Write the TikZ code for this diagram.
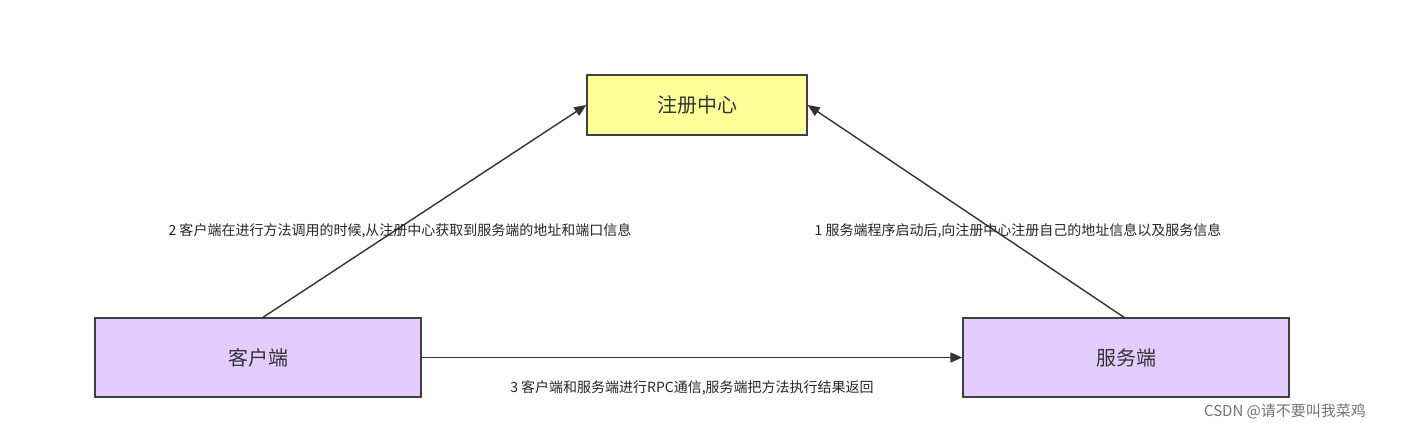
\documentclass[tikz,border=0pt]{standalone}
\usepackage{fontspec}
\newfontfamily\cjk{Noto Sans CJK SC}
\usetikzlibrary{arrows.meta}
\begin{document}
\begin{tikzpicture}[x=0.5pt,y=-0.5pt,
  boxstyle/.style={draw=black!75,line width=0.7pt,inner sep=0pt,font=\cjk\fontsize{10}{12}\selectfont,text=black!80},
  conn/.style={draw=black!80,line width=0.7pt,-{Triangle[length=6pt,width=5pt]}},
  lbl/.style={font=\cjk\fontsize{7}{9}\selectfont,text=black!85}]
\useasboundingbox (0,0) rectangle (1401,430);
\fill[white] (0,0) rectangle (1401,430);
\node[boxstyle,fill={rgb,255:red,255;green,255;blue,153},minimum width=110pt,minimum height=30pt] (reg) at (697,105) {注册中心};
\node[boxstyle,fill={rgb,255:red,229;green,204;blue,255},minimum width=163pt,minimum height=39.5pt] (cli) at (258,357.5) {客户端};
\node[boxstyle,fill={rgb,255:red,229;green,204;blue,255},minimum width=163pt,minimum height=39.5pt] (srv) at (1126,357.5) {服务端};
\coordinate (c1) at (262,318);
\coordinate (s1) at (1125,318);
\draw[conn] (c1) -- (reg.west);
\draw[conn] (s1) -- (reg.east);
\draw[conn] (cli.east) -- (srv.west);
\node[lbl] (l2) at (400,231) {2 客户端在进行方法调用的时候,从注册中心获取到服务端的地址和端口信息};
\node[lbl] (l1) at (1018,231) {1 服务端程序启动后,向注册中心注册自己的地址信息以及服务信息};
\node[lbl] (l3) at (692,388) {3 客户端和服务端进行RPC通信,服务端把方法执行结果返回};
\node[font=\cjk\fontsize{7.5}{9}\selectfont,text=black!55] (wm) at (1285,411) {CSDN @请不要叫我菜鸡};
\end{tikzpicture}
\end{document}
